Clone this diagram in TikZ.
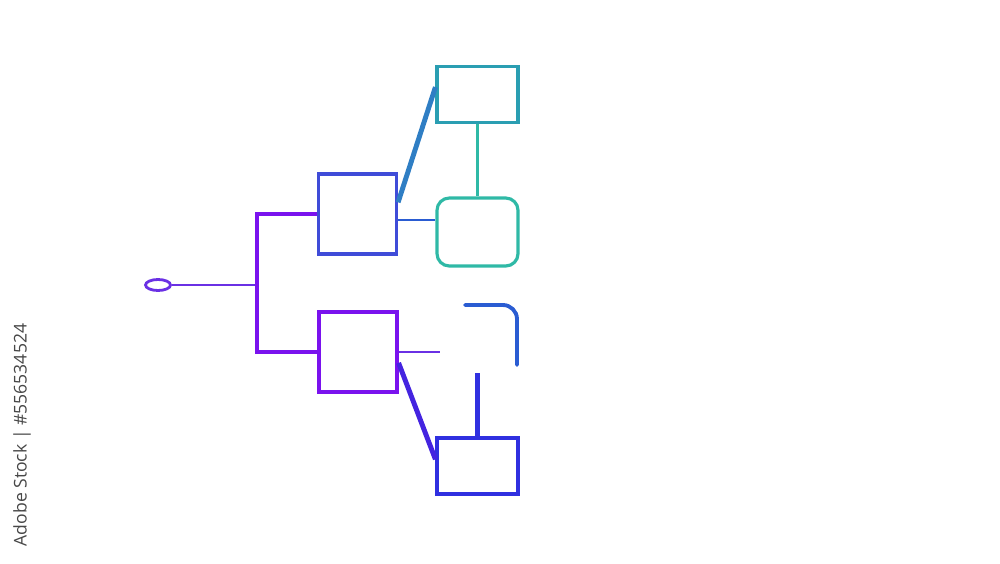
\documentclass[tikz,border=0pt]{standalone}
\usepackage{fontspec}
\newfontfamily\markfont{Open Sans}
\usepackage{tikz}
\usetikzlibrary{shapes,positioning}
\definecolor{violetA}{HTML}{7A12EE}
\definecolor{violetB}{HTML}{6A30E4}
\definecolor{blueA}{HTML}{3F4CD8}
\definecolor{blueB}{HTML}{3030E0}
\definecolor{blueC}{HTML}{2A5CD2}
\definecolor{tealA}{HTML}{2A9EB2}
\definecolor{tealB}{HTML}{2FB9A6}
\definecolor{diagA}{HTML}{2F7EC4}
\definecolor{diagB}{HTML}{4424E0}
\tikzset{
  basic/.style  = {draw, rectangle, line width=0.9pt, inner sep=0pt},
  box/.style    = {basic, minimum width=0.78cm, minimum height=0.8cm},
  end box/.style = {basic, minimum width=0.81cm, minimum height=0.56cm},
  round box/.style = {basic, rounded corners=3.5pt, minimum width=0.81cm, minimum height=0.68cm},
  link/.style   = {line width=0.6pt},
  heavy link/.style = {line width=1.4pt}
}

\begin{document}
\begin{tikzpicture}
\useasboundingbox (0,0) rectangle (10,-5.63);
\node[draw=violetB, ellipse, line width=0.8pt, minimum width=0.25cm, minimum height=0.11cm, inner sep=0pt] (dot) at (1.58,-2.85) {};
\coordinate (fork) at (2.57,-2.85);
\node[box, draw=blueA] (upper) at (3.575,-2.14) {};
\node[box, draw=violetA] (lower) at (3.58,-3.52) {};
\node[end box, draw=tealA] (top) at (4.775,-0.945) {};
\node[round box, draw=tealB] (mid) at (4.775,-2.32) {};
\node[end box, draw=blueB] (bottom) at (4.775,-4.66) {};
\coordinate (stub) at (4.40,-3.52);
\coordinate (post) at (4.775,-3.73);
\coordinate (hook a) at (4.65,-3.05);
\coordinate (hook b) at (5.17,-3.65);
\draw[link, violetB] (dot) -- (fork);
\draw[heavy link, violetA, line width=1.0pt] (upper.west) -| (fork) |- (lower.west);
\draw[heavy link, diagA] (upper.16) -- (top.170);
\draw[link, blueC] (upper.-9) -- (upper.-9 -| mid.west);
\draw[heavy link, tealB, line width=1.1pt] (top) -- (mid);
\draw[link, violetB] (lower.east) -- (stub);
\draw[heavy link, diagB] (lower.-15) -- (bottom.171);
\draw[heavy link, blueB, line width=1.2pt] (bottom.north) -- (post);
\draw[heavy link, blueC, line width=1.1pt, line cap=round, rounded corners=4pt] (hook a) -| (hook b);
\node[rotate=90, text=black!72, font=\markfont\fontsize{5}{6}\selectfont] (mark) at (0.22,-4.35) {Adobe Stock | \#556534524};
\end{tikzpicture}
\end{document}
